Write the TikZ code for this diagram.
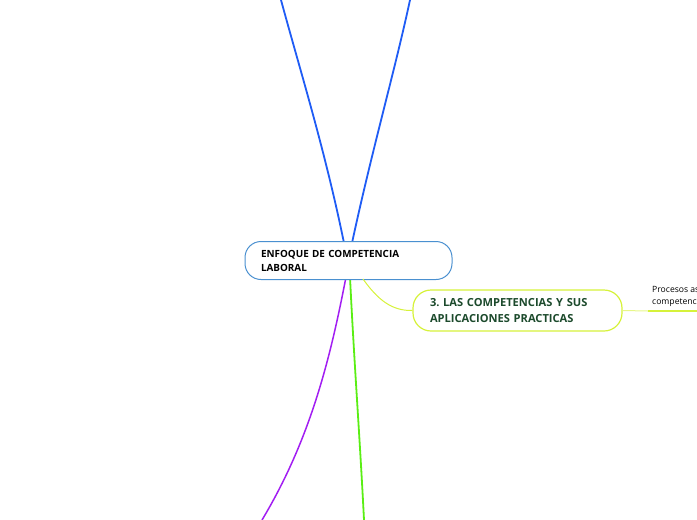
\documentclass[tikz,border=0pt]{standalone}
\usepackage{fontspec}
\setmainfont{Open Sans}
\frenchspacing
\definecolor{cblue}{HTML}{1F5CF5}
\definecolor{cborder}{HTML}{4A90D0}
\definecolor{cyel}{HTML}{D6F23A}
\definecolor{cgreen}{HTML}{5AEE14}
\definecolor{cpurple}{HTML}{A21EF2}
\definecolor{ctext}{HTML}{1C4A2C}
\begin{document}
\begin{tikzpicture}[x=1pt,y=-1pt,
  central/.style={draw=cborder, line width=1pt, rounded corners=16pt, fill=white,
    minimum width=207pt, minimum height=38pt, inner xsep=16pt, text width=175pt,
    align=left, font=\fontsize{9.9}{14}\selectfont\bfseries},
  topic/.style={draw=cyel, line width=1.2pt, rounded corners=18pt, fill=white,
    minimum width=209pt, minimum height=41pt, inner xsep=17pt, text width=175pt,
    align=left, text=ctext, font=\fontsize{11.1}{16}\selectfont\bfseries},
  sub/.style={align=left, anchor=north west, inner sep=0pt,
    font=\fontsize{8.6}{12}\selectfont},
  branch/.style={line width=1.8pt}]
\useasboundingbox (0,0) rectangle (697,520);
\coordinate (bl) at (281,0);
\coordinate (br) at (410,0);
\coordinate (bp) at (262,520);
\coordinate (bg) at (364,520);
\coordinate (ue) at (697,311);
\coordinate (us) at (648,311);
% branches behind nodes
\draw[cblue, branch] (344,243) .. controls (325,150) and (300,70) .. (bl);
\draw[cblue, branch] (352,243) .. controls (372,150) and (395,70) .. (br);
\draw[cpurple, line width=1.5pt] (346,277) .. controls (330,360) and (310,440) .. (bp);
\draw[cgreen, branch] (350,277) .. controls (354,360) and (360,440) .. (bg);
\node[central] (c) at (348.5,260.5) {ENFOQUE DE COMPETENCIA\\LABORAL};
\node[topic] (t) at (517.5,310.5) {3. LAS COMPETENCIAS Y SUS\\APLICACIONES PRACTICAS};
\draw[cyel, line width=1pt] (363,279) .. controls (378,300) and (392,311) .. (t.west);
\node[sub] (s) at (652,286) {Procesos asociados a las\\competencias};
\draw[cyel!60, line width=1pt] (t.east) -- (us);
\draw[cyel, line width=2pt] (us) -- (ue);
\end{tikzpicture}
\end{document}
